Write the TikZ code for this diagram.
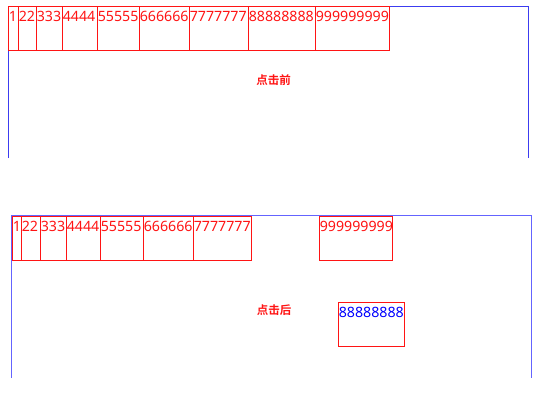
\documentclass[tikz,border=0pt]{standalone}
\usepackage{fontspec}
\setmainfont{Noto Sans}
\newfontfamily\cjkbold{Noto Sans CJK SC}[BoldFont=* Bold]
\definecolor{framebl}{RGB}{60,60,240}
\definecolor{framebl2}{RGB}{100,100,255}
\definecolor{cellred}{RGB}{255,20,20}
\tikzset{
  cell/.style={draw=cellred, line width=1.1pt, rectangle, inner sep=0pt,
    minimum height=44pt, anchor=north west},
  celltxt/.style={font=\fontsize{14.2}{14}\selectfont, text=cellred, inner sep=0pt,
    anchor=north west, xshift=0.6pt, yshift=-5.2pt},
  frameline/.style={line width=0.9pt},
  caption/.style={font=\cjkbold\bfseries\fontsize{11.5}{11.5}\selectfont, text=cellred, inner sep=0pt}
}
\newcommand{\mycell}[5]{%
  \node[cell, minimum width=#3pt] (#1) at (#2) {};
  \node[celltxt, #5] (#1t) at (#1.north west) {#4};
}
\begin{document}
\begin{tikzpicture}[x=1pt,y=-1pt]
\useasboundingbox (0,0) rectangle (554,420);
% top panel frame
\coordinate (tf1) at (8,158);
\coordinate (tf2) at (8,6);
\coordinate (tf3) at (528,6);
\coordinate (tf4) at (528,158);
\draw[frameline, draw=framebl] (tf1) -- (tf2) -- (tf3) -- (tf4);
% top cells
\mycell{a1}{8,6}{10}{1}{}
\mycell{a2}{18,6}{18}{22}{}
\mycell{a3}{36,6}{26}{333}{}
\mycell{a4}{62,6}{35}{4444}{}
\mycell{a5}{97,6}{42}{55555}{}
\mycell{a6}{139,6}{50}{666666}{}
\mycell{a7}{189,6}{59}{7777777}{}
\mycell{a8}{248,6}{67}{88888888}{}
\mycell{a9}{315,6}{74}{999999999}{}
\node[caption] (cap1) at (273.5,80) {点击前};
% bottom panel frame
\coordinate (bf1) at (11,378);
\coordinate (bf2) at (11,215);
\coordinate (bf3) at (531,215);
\coordinate (bf4) at (531,378);
\draw[frameline, draw=framebl2] (bf1) -- (bf2) -- (bf3) -- (bf4);
% bottom cells
\mycell{b1}{12,216}{9}{1}{}
\mycell{b2}{21,216}{19}{22}{}
\mycell{b3}{40,216}{26}{333}{}
\mycell{b4}{66,216}{34}{4444}{}
\mycell{b5}{100,216}{43}{55555}{}
\mycell{b6}{143,216}{50}{666666}{}
\mycell{b7}{193,216}{58}{7777777}{}
\mycell{b9}{319,216}{73}{999999999}{}
\mycell{b8}{338,302}{66}{88888888}{text=blue}
\node[caption] (cap2) at (274,310) {点击后};
\end{tikzpicture}
\end{document}
